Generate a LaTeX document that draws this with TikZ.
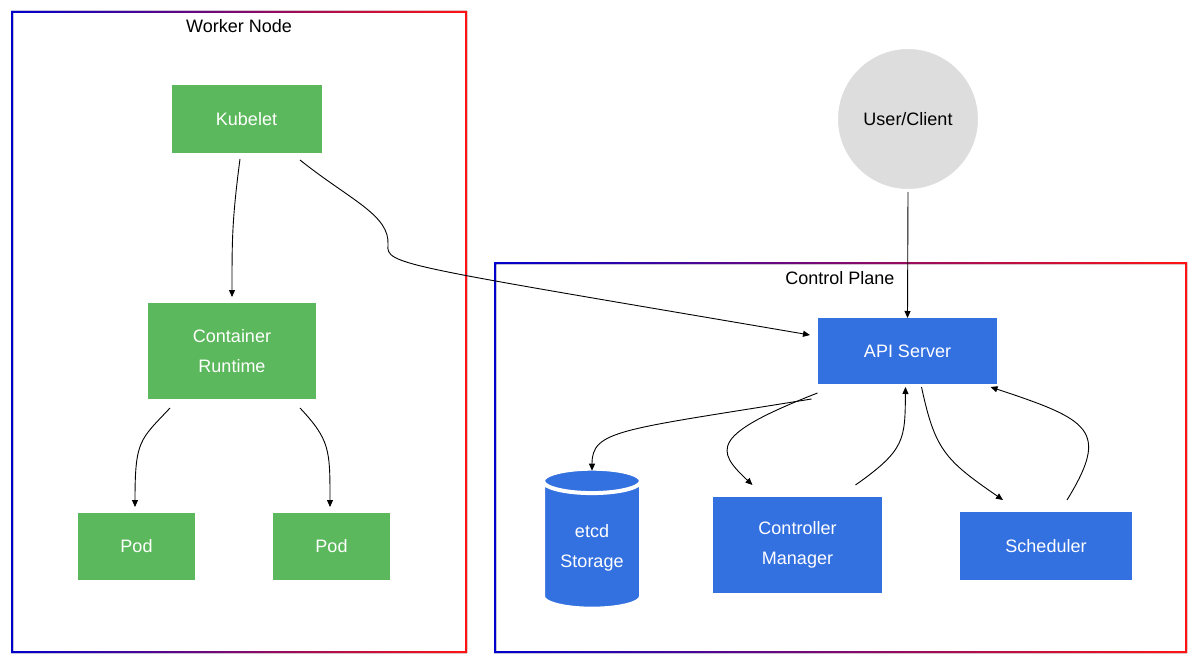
\documentclass[tikz,border=0pt]{standalone}
\usepackage{fontspec}
\setmainfont{Liberation Sans}
\usetikzlibrary{shapes.geometric,arrows.meta,shadows}
\definecolor{kgreen}{HTML}{5CB85C}
\definecolor{kblue}{HTML}{3370E0}
\definecolor{kgray}{HTML}{DDDDDD}
\begin{document}
\begin{tikzpicture}[x=1pt,y=-1pt,
  box/.style={draw=white,line width=6pt,text=white,font=\fontsize{18}{30}\selectfont,align=center,inner sep=0pt,
    drop shadow={shadow xshift=0pt,shadow yshift=0pt,opacity=0.25}},
  gbox/.style={box,fill=kgreen},
  bbox/.style={box,fill=kblue},
  arr/.style={-{Triangle[length=7pt,width=6pt]},line width=0.9pt}]
\useasboundingbox (0,0) rectangle (1200,666);
\fill[white] (0,0) rectangle (1200,666);
% cluster borders
\fill[left color=blue!80!black,right color=red!90!pink,even odd rule] (11,11) rectangle (467,653) (13,13) rectangle (465,651);
\node[font=\fontsize{18}{20}\selectfont] (wn) at (239,26) {Worker Node};
\fill[left color=blue!80!black,right color=red!90!pink,even odd rule] (494,262) rectangle (1187,653) (496,264) rectangle (1185,651);
\node[font=\fontsize{18}{20}\selectfont] (cp) at (840,278) {Control Plane};
% nodes
\node[gbox,minimum width=156pt,minimum height=74pt] (kub) at (246.5,119) {Kubelet};
\node[gbox,minimum width=174pt,minimum height=102pt] (cr) at (232,351) {Container\\Runtime};
\node[gbox,minimum width=123pt,minimum height=73pt] (p1) at (136.5,546.5) {Pod};
\node[gbox,minimum width=123pt,minimum height=73pt] (p2) at (331.5,546.5) {Pod};
\node[circle,fill=kgray,draw=white,line width=6pt,minimum size=146pt,font=\fontsize{18}{20}\selectfont,
  drop shadow={shadow xshift=0pt,shadow yshift=0pt,opacity=0.25}] (user) at (908,119) {User/Client};
\node[bbox,minimum width=185pt,minimum height=72pt] (api) at (907.5,351) {API Server};
\node[bbox,minimum width=175pt,minimum height=102pt] (cm) at (797.5,545) {Controller\\Manager};
\node[bbox,minimum width=178pt,minimum height=74pt] (sch) at (1046,546) {Scheduler};
\node[cylinder,shape border rotate=90,aspect=0.35,fill=kblue,draw=white,line width=4pt,text=white,
  font=\fontsize{18}{30}\selectfont,align=center,minimum width=98pt,minimum height=140pt,
  drop shadow={shadow xshift=0pt,shadow yshift=0pt,opacity=0.25}] (etcd) at (592,548) {etcd\\Storage};
% coordinates
\coordinate (a1) at (240,159); \coordinate (a2) at (232,297);
\coordinate (b1) at (300,160); \coordinate (b2) at (810,335);
% edges
\draw[arr] (a1) .. controls (232,220) and (232,240) .. (a2);
\draw[arr] (b1) .. controls (350,200) and (390,215) .. (388,245) .. controls (386,265) and (400,265) .. (b2);
\draw[arr] (cr.south west) ++(28,3) .. controls (140,440) and (135,440) .. ([xshift=-1.5pt]p1.north);
\draw[arr] (cr.south east) ++(-22,3) .. controls (330,440) and (330,450) .. ([xshift=-1.5pt]p2.north);
\draw[arr] (user.south) ++(0,-3) -- ([yshift=-6pt]api.north);
\draw[arr] ([xshift=-96pt,yshift=-9pt]api.south) .. controls (620,430) and (592,430) .. ([yshift=-4pt]etcd.north);
\draw[arr] ([xshift=-90pt,yshift=-3pt]api.south) .. controls (710,435) and (715,450) .. ([xshift=-45pt,yshift=6pt]cm.north);
\draw[arr] ([xshift=58pt,yshift=6pt]cm.north) .. controls (905,450) and (905,440) .. ([xshift=-2pt,yshift=3pt]api.south);
\draw[arr] ([xshift=14pt,yshift=3pt]api.south) .. controls (935,450) and (945,460) .. ([xshift=-43pt,yshift=6pt]sch.north);
\draw[arr] ([xshift=21pt,yshift=6pt]sch.north) .. controls (1110,430) and (1090,420) .. ([xshift=83pt,yshift=3pt]api.south);
\end{tikzpicture}
\end{document}
